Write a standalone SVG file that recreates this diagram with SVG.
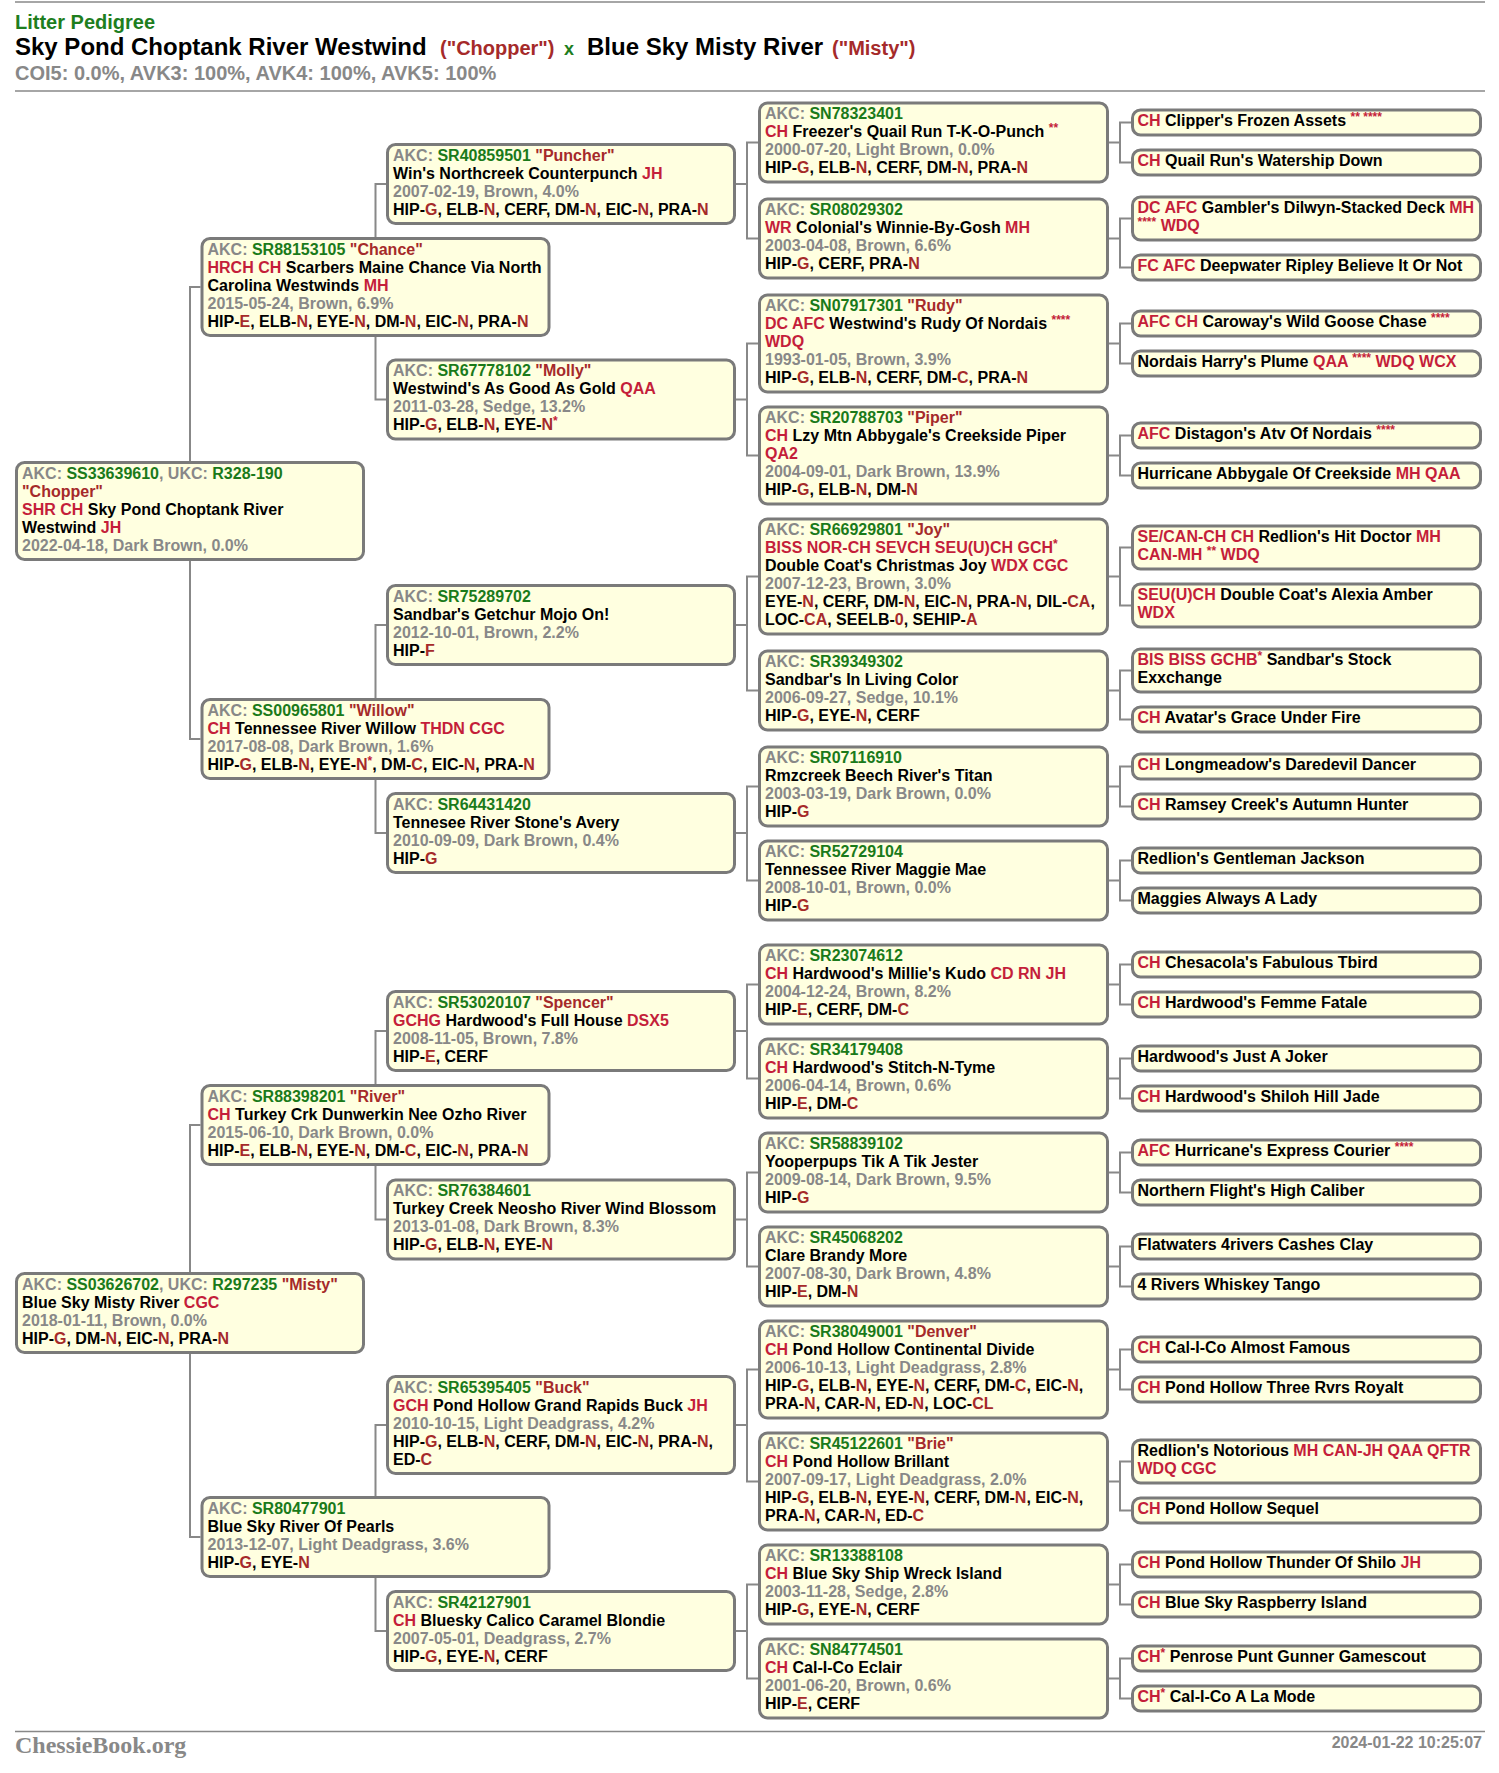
<svg xmlns="http://www.w3.org/2000/svg" width="1499" height="1773" viewBox="0 0 1499 1773">
<style>
text{font-family:"Liberation Sans",Arial,Helvetica,sans-serif;font-weight:bold;font-size:16px;fill:#000}
.box{fill:#ffffe0;stroke:#7a7a7a;stroke-width:3}
.g{fill:#888}
.r{fill:#1a7a1a}
.c{fill:#a52a2a}
.t{fill:#c41e3a}
.h{fill:#a52a2a}
.s{fill:#c41e3a;font-size:12px}
.rule{stroke:#888;stroke-width:1.5}
#connectors path{fill:none;stroke:#888;stroke-width:2}
</style>
<rect width="1499" height="1773" fill="#fff"/>
<g id="header">
<line class="rule" x1="15" y1="2" x2="1485" y2="2"/>
<text x="15" y="29" style="font-size:20px;fill:#1e7e1e">Litter Pedigree</text>
<text x="15" y="55" style="font-size:24px">Sky Pond Choptank River Westwind</text>
<text x="440" y="55" style="font-size:20px;fill:#a52a2a">("Chopper")</text>
<text x="564" y="55" style="font-size:18px;fill:#1e7e1e">x</text>
<text x="587" y="55" style="font-size:24px">Blue Sky Misty River</text>
<text x="832" y="55" style="font-size:20px;fill:#a52a2a">("Misty")</text>
<text x="15" y="80" style="font-size:20px;fill:#888">COI5: 0.0%, AVK3: 100%, AVK4: 100%, AVK5: 100%</text>
<line class="rule" x1="15" y1="91" x2="1485" y2="91"/>
</g>
<g id="connectors">
<path d="M190,461V287H200.5M190,561V739H200.5M190,1272V1125H200.5M190,1354V1537H200.5"/>
<path d="M375.5,237V184H386M375.5,337V399.5H386M375.5,698V625H386M375.5,780V833H386M375.5,1084V1031H386M375.5,1166V1219.5H386M375.5,1496V1425H386M375.5,1578V1631H386"/>
<path d="M736,184H747M758,142.5H747V238.5H758M736,399.5H747M758,343.5H747V455.5H758M736,625H747M758,576.5H747V690.5H758M736,833H747M758,786.5H747V880.5H758M736,1031H747M758,984.5H747V1078.5H758M736,1219.5H747M758,1172.5H747V1266.5H758M736,1425H747M758,1369.5H747V1481.5H758M736,1631H747M758,1584.5H747V1678.5H758"/>
<path d="M1109,142.5H1120M1131,122.5H1120V162.5H1131M1109,238.5H1120M1131,218.5H1120V267.5H1131M1109,343.5H1120M1131,323.5H1120V363.5H1131M1109,455.5H1120M1131,435.5H1120V475.5H1131M1109,576.5H1120M1131,547.5H1120V605.5H1131M1109,690.5H1120M1131,670.5H1120V719.5H1131M1109,786.5H1120M1131,766.5H1120V806.5H1131M1109,880.5H1120M1131,860.5H1120V900.5H1131M1109,984.5H1120M1131,964.5H1120V1004.5H1131M1109,1078.5H1120M1131,1058.5H1120V1098.5H1131M1109,1172.5H1120M1131,1152.5H1120V1192.5H1131M1109,1266.5H1120M1131,1246.5H1120V1286.5H1131M1109,1369.5H1120M1131,1349.5H1120V1389.5H1131M1109,1481.5H1120M1131,1461.5H1120V1510.5H1131M1109,1584.5H1120M1131,1564.5H1120V1604.5H1131M1109,1678.5H1120M1131,1658.5H1120V1698.5H1131"/>
</g>
<g id="chopper"><rect class="box" x="16.5" y="462.5" width="347" height="97" rx="8"/>
<text x="22" y="478.5"><tspan class="g">AKC: </tspan><tspan class="r">SS33639610</tspan><tspan class="g">, UKC: </tspan><tspan class="r">R328-190</tspan></text>
<text x="22" y="496.5" class="c">"Chopper"</text>
<text x="22" y="514.5"><tspan class="t">SHR CH</tspan> Sky Pond Choptank River</text>
<text x="22" y="532.5">Westwind <tspan class="t">JH</tspan></text>
<text x="22" y="550.5" class="g">2022-04-18, Dark Brown, 0.0%</text></g>
<g id="misty"><rect class="box" x="16.5" y="1273.5" width="347" height="79" rx="8"/>
<text x="22" y="1289.5"><tspan class="g">AKC: </tspan><tspan class="r">SS03626702</tspan><tspan class="g">, UKC: </tspan><tspan class="r">R297235</tspan><tspan class="c"> "Misty"</tspan></text>
<text x="22" y="1307.5">Blue Sky Misty River <tspan class="t">CGC</tspan></text>
<text x="22" y="1325.5" class="g">2018-01-11, Brown, 0.0%</text>
<text x="22" y="1343.5">HIP-<tspan class="h">G</tspan>, DM-<tspan class="h">N</tspan>, EIC-<tspan class="h">N</tspan>, PRA-<tspan class="h">N</tspan></text></g>
<g id="chance"><rect class="box" x="202" y="238.5" width="347" height="97" rx="8"/>
<text x="207.5" y="254.5"><tspan class="g">AKC: </tspan><tspan class="r">SR88153105</tspan><tspan class="c"> "Chance"</tspan></text>
<text x="207.5" y="272.5"><tspan class="t">HRCH CH</tspan> Scarbers Maine Chance Via North</text>
<text x="207.5" y="290.5">Carolina Westwinds <tspan class="t">MH</tspan></text>
<text x="207.5" y="308.5" class="g">2015-05-24, Brown, 6.9%</text>
<text x="207.5" y="326.5">HIP-<tspan class="h">E</tspan>, ELB-<tspan class="h">N</tspan>, EYE-<tspan class="h">N</tspan>, DM-<tspan class="h">N</tspan>, EIC-<tspan class="h">N</tspan>, PRA-<tspan class="h">N</tspan></text></g>
<g id="willow"><rect class="box" x="202" y="699.5" width="347" height="79" rx="8"/>
<text x="207.5" y="715.5"><tspan class="g">AKC: </tspan><tspan class="r">SS00965801</tspan><tspan class="c"> "Willow"</tspan></text>
<text x="207.5" y="733.5"><tspan class="t">CH</tspan> Tennessee River Willow <tspan class="t">THDN CGC</tspan></text>
<text x="207.5" y="751.5" class="g">2017-08-08, Dark Brown, 1.6%</text>
<text x="207.5" y="769.5">HIP-<tspan class="h">G</tspan>, ELB-<tspan class="h">N</tspan>, EYE-<tspan class="h">N</tspan><tspan class="s" dy="-5">*</tspan><tspan dy="5">, DM-</tspan><tspan class="h">C</tspan>, EIC-<tspan class="h">N</tspan>, PRA-<tspan class="h">N</tspan></text></g>
<g id="river"><rect class="box" x="202" y="1085.5" width="347" height="79" rx="8"/>
<text x="207.5" y="1101.5"><tspan class="g">AKC: </tspan><tspan class="r">SR88398201</tspan><tspan class="c"> "River"</tspan></text>
<text x="207.5" y="1119.5"><tspan class="t">CH</tspan> Turkey Crk Dunwerkin Nee Ozho River</text>
<text x="207.5" y="1137.5" class="g">2015-06-10, Dark Brown, 0.0%</text>
<text x="207.5" y="1155.5">HIP-<tspan class="h">E</tspan>, ELB-<tspan class="h">N</tspan>, EYE-<tspan class="h">N</tspan>, DM-<tspan class="h">C</tspan>, EIC-<tspan class="h">N</tspan>, PRA-<tspan class="h">N</tspan></text></g>
<g id="pearls"><rect class="box" x="202" y="1497.5" width="347" height="79" rx="8"/>
<text x="207.5" y="1513.5"><tspan class="g">AKC: </tspan><tspan class="r">SR80477901</tspan></text>
<text x="207.5" y="1531.5">Blue Sky River Of Pearls</text>
<text x="207.5" y="1549.5" class="g">2013-12-07, Light Deadgrass, 3.6%</text>
<text x="207.5" y="1567.5">HIP-<tspan class="h">G</tspan>, EYE-<tspan class="h">N</tspan></text></g>
<g id="puncher"><rect class="box" x="387.5" y="144.5" width="347" height="79" rx="8"/>
<text x="393" y="160.5"><tspan class="g">AKC: </tspan><tspan class="r">SR40859501</tspan><tspan class="c"> "Puncher"</tspan></text>
<text x="393" y="178.5">Win's Northcreek Counterpunch <tspan class="t">JH</tspan></text>
<text x="393" y="196.5" class="g">2007-02-19, Brown, 4.0%</text>
<text x="393" y="214.5">HIP-<tspan class="h">G</tspan>, ELB-<tspan class="h">N</tspan>, CERF, DM-<tspan class="h">N</tspan>, EIC-<tspan class="h">N</tspan>, PRA-<tspan class="h">N</tspan></text></g>
<g id="molly"><rect class="box" x="387.5" y="360" width="347" height="79" rx="8"/>
<text x="393" y="376"><tspan class="g">AKC: </tspan><tspan class="r">SR67778102</tspan><tspan class="c"> "Molly"</tspan></text>
<text x="393" y="394">Westwind's As Good As Gold <tspan class="t">QAA</tspan></text>
<text x="393" y="412" class="g">2011-03-28, Sedge, 13.2%</text>
<text x="393" y="430">HIP-<tspan class="h">G</tspan>, ELB-<tspan class="h">N</tspan>, EYE-<tspan class="h">N</tspan><tspan class="s" dy="-5">*</tspan></text></g>
<g id="mojo"><rect class="box" x="387.5" y="585.5" width="347" height="79" rx="8"/>
<text x="393" y="601.5"><tspan class="g">AKC: </tspan><tspan class="r">SR75289702</tspan></text>
<text x="393" y="619.5">Sandbar's Getchur Mojo On!</text>
<text x="393" y="637.5" class="g">2012-10-01, Brown, 2.2%</text>
<text x="393" y="655.5">HIP-<tspan class="h">F</tspan></text></g>
<g id="avery"><rect class="box" x="387.5" y="793.5" width="347" height="79" rx="8"/>
<text x="393" y="809.5"><tspan class="g">AKC: </tspan><tspan class="r">SR64431420</tspan></text>
<text x="393" y="827.5">Tennesee River Stone's Avery</text>
<text x="393" y="845.5" class="g">2010-09-09, Dark Brown, 0.4%</text>
<text x="393" y="863.5">HIP-<tspan class="h">G</tspan></text></g>
<g id="spencer"><rect class="box" x="387.5" y="991.5" width="347" height="79" rx="8"/>
<text x="393" y="1007.5"><tspan class="g">AKC: </tspan><tspan class="r">SR53020107</tspan><tspan class="c"> "Spencer"</tspan></text>
<text x="393" y="1025.5"><tspan class="t">GCHG</tspan> Hardwood's Full House <tspan class="t">DSX5</tspan></text>
<text x="393" y="1043.5" class="g">2008-11-05, Brown, 7.8%</text>
<text x="393" y="1061.5">HIP-<tspan class="h">E</tspan>, CERF</text></g>
<g id="neosho"><rect class="box" x="387.5" y="1180" width="347" height="79" rx="8"/>
<text x="393" y="1196"><tspan class="g">AKC: </tspan><tspan class="r">SR76384601</tspan></text>
<text x="393" y="1214">Turkey Creek Neosho River Wind Blossom</text>
<text x="393" y="1232" class="g">2013-01-08, Dark Brown, 8.3%</text>
<text x="393" y="1250">HIP-<tspan class="h">G</tspan>, ELB-<tspan class="h">N</tspan>, EYE-<tspan class="h">N</tspan></text></g>
<g id="buck"><rect class="box" x="387.5" y="1376.5" width="347" height="97" rx="8"/>
<text x="393" y="1392.5"><tspan class="g">AKC: </tspan><tspan class="r">SR65395405</tspan><tspan class="c"> "Buck"</tspan></text>
<text x="393" y="1410.5"><tspan class="t">GCH</tspan> Pond Hollow Grand Rapids Buck <tspan class="t">JH</tspan></text>
<text x="393" y="1428.5" class="g">2010-10-15, Light Deadgrass, 4.2%</text>
<text x="393" y="1446.5">HIP-<tspan class="h">G</tspan>, ELB-<tspan class="h">N</tspan>, CERF, DM-<tspan class="h">N</tspan>, EIC-<tspan class="h">N</tspan>, PRA-<tspan class="h">N</tspan>,</text>
<text x="393" y="1464.5">ED-<tspan class="h">C</tspan></text></g>
<g id="blondie"><rect class="box" x="387.5" y="1591.5" width="347" height="79" rx="8"/>
<text x="393" y="1607.5"><tspan class="g">AKC: </tspan><tspan class="r">SR42127901</tspan></text>
<text x="393" y="1625.5"><tspan class="t">CH</tspan> Bluesky Calico Caramel Blondie</text>
<text x="393" y="1643.5" class="g">2007-05-01, Deadgrass, 2.7%</text>
<text x="393" y="1661.5">HIP-<tspan class="h">G</tspan>, EYE-<tspan class="h">N</tspan>, CERF</text></g>
<g id="freezer"><rect class="box" x="759.5" y="103" width="348" height="79" rx="8"/>
<text x="765" y="119"><tspan class="g">AKC: </tspan><tspan class="r">SN78323401</tspan></text>
<text x="765" y="137"><tspan class="t">CH</tspan> Freezer's Quail Run T-K-O-Punch <tspan class="s" dy="-5">**</tspan></text>
<text x="765" y="155" class="g">2000-07-20, Light Brown, 0.0%</text>
<text x="765" y="173">HIP-<tspan class="h">G</tspan>, ELB-<tspan class="h">N</tspan>, CERF, DM-<tspan class="h">N</tspan>, PRA-<tspan class="h">N</tspan></text></g>
<g id="colonial"><rect class="box" x="759.5" y="199" width="348" height="79" rx="8"/>
<text x="765" y="215"><tspan class="g">AKC: </tspan><tspan class="r">SR08029302</tspan></text>
<text x="765" y="233"><tspan class="t">WR</tspan> Colonial's Winnie-By-Gosh <tspan class="t">MH</tspan></text>
<text x="765" y="251" class="g">2003-04-08, Brown, 6.6%</text>
<text x="765" y="269">HIP-<tspan class="h">G</tspan>, CERF, PRA-<tspan class="h">N</tspan></text></g>
<g id="rudy"><rect class="box" x="759.5" y="295" width="348" height="97" rx="8"/>
<text x="765" y="311"><tspan class="g">AKC: </tspan><tspan class="r">SN07917301</tspan><tspan class="c"> "Rudy"</tspan></text>
<text x="765" y="329"><tspan class="t">DC AFC</tspan> Westwind's Rudy Of Nordais <tspan class="s" dy="-5">****</tspan></text>
<text x="765" y="347" class="t">WDQ</text>
<text x="765" y="365" class="g">1993-01-05, Brown, 3.9%</text>
<text x="765" y="383">HIP-<tspan class="h">G</tspan>, ELB-<tspan class="h">N</tspan>, CERF, DM-<tspan class="h">C</tspan>, PRA-<tspan class="h">N</tspan></text></g>
<g id="piper"><rect class="box" x="759.5" y="407" width="348" height="97" rx="8"/>
<text x="765" y="423"><tspan class="g">AKC: </tspan><tspan class="r">SR20788703</tspan><tspan class="c"> "Piper"</tspan></text>
<text x="765" y="441"><tspan class="t">CH</tspan> Lzy Mtn Abbygale's Creekside Piper</text>
<text x="765" y="459" class="t">QA2</text>
<text x="765" y="477" class="g">2004-09-01, Dark Brown, 13.9%</text>
<text x="765" y="495">HIP-<tspan class="h">G</tspan>, ELB-<tspan class="h">N</tspan>, DM-<tspan class="h">N</tspan></text></g>
<g id="joy"><rect class="box" x="759.5" y="519" width="348" height="115" rx="8"/>
<text x="765" y="535"><tspan class="g">AKC: </tspan><tspan class="r">SR66929801</tspan><tspan class="c"> "Joy"</tspan></text>
<text x="765" y="553"><tspan class="t">BISS NOR-CH SEVCH SEU(U)CH GCH</tspan><tspan class="s" dy="-5">*</tspan></text>
<text x="765" y="571">Double Coat's Christmas Joy <tspan class="t">WDX CGC</tspan></text>
<text x="765" y="589" class="g">2007-12-23, Brown, 3.0%</text>
<text x="765" y="607">EYE-<tspan class="h">N</tspan>, CERF, DM-<tspan class="h">N</tspan>, EIC-<tspan class="h">N</tspan>, PRA-<tspan class="h">N</tspan>, DIL-<tspan class="h">CA</tspan>,</text>
<text x="765" y="625">LOC-<tspan class="h">CA</tspan>, SEELB-<tspan class="h">0</tspan>, SEHIP-<tspan class="h">A</tspan></text></g>
<g id="livingcolor"><rect class="box" x="759.5" y="651" width="348" height="79" rx="8"/>
<text x="765" y="667"><tspan class="g">AKC: </tspan><tspan class="r">SR39349302</tspan></text>
<text x="765" y="685">Sandbar's In Living Color</text>
<text x="765" y="703" class="g">2006-09-27, Sedge, 10.1%</text>
<text x="765" y="721">HIP-<tspan class="h">G</tspan>, EYE-<tspan class="h">N</tspan>, CERF</text></g>
<g id="titan"><rect class="box" x="759.5" y="747" width="348" height="79" rx="8"/>
<text x="765" y="763"><tspan class="g">AKC: </tspan><tspan class="r">SR07116910</tspan></text>
<text x="765" y="781">Rmzcreek Beech River's Titan</text>
<text x="765" y="799" class="g">2003-03-19, Dark Brown, 0.0%</text>
<text x="765" y="817">HIP-<tspan class="h">G</tspan></text></g>
<g id="maggiemae"><rect class="box" x="759.5" y="841" width="348" height="79" rx="8"/>
<text x="765" y="857"><tspan class="g">AKC: </tspan><tspan class="r">SR52729104</tspan></text>
<text x="765" y="875">Tennessee River Maggie Mae</text>
<text x="765" y="893" class="g">2008-10-01, Brown, 0.0%</text>
<text x="765" y="911">HIP-<tspan class="h">G</tspan></text></g>
<g id="kudo"><rect class="box" x="759.5" y="945" width="348" height="79" rx="8"/>
<text x="765" y="961"><tspan class="g">AKC: </tspan><tspan class="r">SR23074612</tspan></text>
<text x="765" y="979"><tspan class="t">CH</tspan> Hardwood's Millie's Kudo <tspan class="t">CD RN JH</tspan></text>
<text x="765" y="997" class="g">2004-12-24, Brown, 8.2%</text>
<text x="765" y="1015">HIP-<tspan class="h">E</tspan>, CERF, DM-<tspan class="h">C</tspan></text></g>
<g id="stitch"><rect class="box" x="759.5" y="1039" width="348" height="79" rx="8"/>
<text x="765" y="1055"><tspan class="g">AKC: </tspan><tspan class="r">SR34179408</tspan></text>
<text x="765" y="1073"><tspan class="t">CH</tspan> Hardwood's Stitch-N-Tyme</text>
<text x="765" y="1091" class="g">2006-04-14, Brown, 0.6%</text>
<text x="765" y="1109">HIP-<tspan class="h">E</tspan>, DM-<tspan class="h">C</tspan></text></g>
<g id="jester"><rect class="box" x="759.5" y="1133" width="348" height="79" rx="8"/>
<text x="765" y="1149"><tspan class="g">AKC: </tspan><tspan class="r">SR58839102</tspan></text>
<text x="765" y="1167">Yooperpups Tik A Tik Jester</text>
<text x="765" y="1185" class="g">2009-08-14, Dark Brown, 9.5%</text>
<text x="765" y="1203">HIP-<tspan class="h">G</tspan></text></g>
<g id="clare"><rect class="box" x="759.5" y="1227" width="348" height="79" rx="8"/>
<text x="765" y="1243"><tspan class="g">AKC: </tspan><tspan class="r">SR45068202</tspan></text>
<text x="765" y="1261">Clare Brandy More</text>
<text x="765" y="1279" class="g">2007-08-30, Dark Brown, 4.8%</text>
<text x="765" y="1297">HIP-<tspan class="h">E</tspan>, DM-<tspan class="h">N</tspan></text></g>
<g id="denver"><rect class="box" x="759.5" y="1321" width="348" height="97" rx="8"/>
<text x="765" y="1337"><tspan class="g">AKC: </tspan><tspan class="r">SR38049001</tspan><tspan class="c"> "Denver"</tspan></text>
<text x="765" y="1355"><tspan class="t">CH</tspan> Pond Hollow Continental Divide</text>
<text x="765" y="1373" class="g">2006-10-13, Light Deadgrass, 2.8%</text>
<text x="765" y="1391">HIP-<tspan class="h">G</tspan>, ELB-<tspan class="h">N</tspan>, EYE-<tspan class="h">N</tspan>, CERF, DM-<tspan class="h">C</tspan>, EIC-<tspan class="h">N</tspan>,</text>
<text x="765" y="1409">PRA-<tspan class="h">N</tspan>, CAR-<tspan class="h">N</tspan>, ED-<tspan class="h">N</tspan>, LOC-<tspan class="h">CL</tspan></text></g>
<g id="brie"><rect class="box" x="759.5" y="1433" width="348" height="97" rx="8"/>
<text x="765" y="1449"><tspan class="g">AKC: </tspan><tspan class="r">SR45122601</tspan><tspan class="c"> "Brie"</tspan></text>
<text x="765" y="1467"><tspan class="t">CH</tspan> Pond Hollow Brillant</text>
<text x="765" y="1485" class="g">2007-09-17, Light Deadgrass, 2.0%</text>
<text x="765" y="1503">HIP-<tspan class="h">G</tspan>, ELB-<tspan class="h">N</tspan>, EYE-<tspan class="h">N</tspan>, CERF, DM-<tspan class="h">N</tspan>, EIC-<tspan class="h">N</tspan>,</text>
<text x="765" y="1521">PRA-<tspan class="h">N</tspan>, CAR-<tspan class="h">N</tspan>, ED-<tspan class="h">C</tspan></text></g>
<g id="shipwreck"><rect class="box" x="759.5" y="1545" width="348" height="79" rx="8"/>
<text x="765" y="1561"><tspan class="g">AKC: </tspan><tspan class="r">SR13388108</tspan></text>
<text x="765" y="1579"><tspan class="t">CH</tspan> Blue Sky Ship Wreck Island</text>
<text x="765" y="1597" class="g">2003-11-28, Sedge, 2.8%</text>
<text x="765" y="1615">HIP-<tspan class="h">G</tspan>, EYE-<tspan class="h">N</tspan>, CERF</text></g>
<g id="eclair"><rect class="box" x="759.5" y="1639" width="348" height="79" rx="8"/>
<text x="765" y="1655"><tspan class="g">AKC: </tspan><tspan class="r">SN84774501</tspan></text>
<text x="765" y="1673"><tspan class="t">CH</tspan> Cal-I-Co Eclair</text>
<text x="765" y="1691" class="g">2001-06-20, Brown, 0.6%</text>
<text x="765" y="1709">HIP-<tspan class="h">E</tspan>, CERF</text></g>
<g id="g4-01"><rect class="box" x="1132.5" y="110" width="348" height="25" rx="8"/><text x="1137.5" y="126"><tspan class="t">CH</tspan> Clipper's Frozen Assets <tspan class="s" dy="-5">** ****</tspan></text></g>
<g id="g4-02"><rect class="box" x="1132.5" y="150" width="348" height="25" rx="8"/><text x="1137.5" y="166"><tspan class="t">CH</tspan> Quail Run's Watership Down</text></g>
<g id="g4-03"><rect class="box" x="1132.5" y="197" width="348" height="43" rx="8"/><text x="1137.5" y="213"><tspan class="t">DC AFC</tspan> Gambler's Dilwyn-Stacked Deck <tspan class="t">MH</tspan></text><text x="1137.5" y="231"><tspan class="s" dy="-5">****</tspan><tspan class="t" dy="5"> WDQ</tspan></text></g>
<g id="g4-04"><rect class="box" x="1132.5" y="255" width="348" height="25" rx="8"/><text x="1137.5" y="271"><tspan class="t">FC AFC</tspan> Deepwater Ripley Believe It Or Not</text></g>
<g id="g4-05"><rect class="box" x="1132.5" y="311" width="348" height="25" rx="8"/><text x="1137.5" y="327"><tspan class="t">AFC CH</tspan> Caroway's Wild Goose Chase <tspan class="s" dy="-5">****</tspan></text></g>
<g id="g4-06"><rect class="box" x="1132.5" y="351" width="348" height="25" rx="8"/><text x="1137.5" y="367">Nordais Harry's Plume <tspan class="t">QAA</tspan> <tspan class="s" dy="-5">****</tspan><tspan class="t" dy="5"> WDQ WCX</tspan></text></g>
<g id="g4-07"><rect class="box" x="1132.5" y="423" width="348" height="25" rx="8"/><text x="1137.5" y="439"><tspan class="t">AFC</tspan> Distagon's Atv Of Nordais <tspan class="s" dy="-5">****</tspan></text></g>
<g id="g4-08"><rect class="box" x="1132.5" y="463" width="348" height="25" rx="8"/><text x="1137.5" y="479">Hurricane Abbygale Of Creekside <tspan class="t">MH QAA</tspan></text></g>
<g id="g4-09"><rect class="box" x="1132.5" y="526" width="348" height="43" rx="8"/><text x="1137.5" y="542"><tspan class="t">SE/CAN-CH CH</tspan> Redlion's Hit Doctor <tspan class="t">MH</tspan></text><text x="1137.5" y="560"><tspan class="t">CAN-MH </tspan><tspan class="s" dy="-5">**</tspan><tspan class="t" dy="5"> WDQ</tspan></text></g>
<g id="g4-10"><rect class="box" x="1132.5" y="584" width="348" height="43" rx="8"/><text x="1137.5" y="600"><tspan class="t">SEU(U)CH</tspan> Double Coat's Alexia Amber</text><text x="1137.5" y="618" class="t">WDX</text></g>
<g id="g4-11"><rect class="box" x="1132.5" y="649" width="348" height="43" rx="8"/><text x="1137.5" y="665"><tspan class="t">BIS BISS GCHB</tspan><tspan class="s" dy="-5">*</tspan><tspan dy="5"> Sandbar's Stock</tspan></text><text x="1137.5" y="683">Exxchange</text></g>
<g id="g4-12"><rect class="box" x="1132.5" y="707" width="348" height="25" rx="8"/><text x="1137.5" y="723"><tspan class="t">CH</tspan> Avatar's Grace Under Fire</text></g>
<g id="g4-13"><rect class="box" x="1132.5" y="754" width="348" height="25" rx="8"/><text x="1137.5" y="770"><tspan class="t">CH</tspan> Longmeadow's Daredevil Dancer</text></g>
<g id="g4-14"><rect class="box" x="1132.5" y="794" width="348" height="25" rx="8"/><text x="1137.5" y="810"><tspan class="t">CH</tspan> Ramsey Creek's Autumn Hunter</text></g>
<g id="g4-15"><rect class="box" x="1132.5" y="848" width="348" height="25" rx="8"/><text x="1137.5" y="864">Redlion's Gentleman Jackson</text></g>
<g id="g4-16"><rect class="box" x="1132.5" y="888" width="348" height="25" rx="8"/><text x="1137.5" y="904">Maggies Always A Lady</text></g>
<g id="g4-17"><rect class="box" x="1132.5" y="952" width="348" height="25" rx="8"/><text x="1137.5" y="968"><tspan class="t">CH</tspan> Chesacola's Fabulous Tbird</text></g>
<g id="g4-18"><rect class="box" x="1132.5" y="992" width="348" height="25" rx="8"/><text x="1137.5" y="1008"><tspan class="t">CH</tspan> Hardwood's Femme Fatale</text></g>
<g id="g4-19"><rect class="box" x="1132.5" y="1046" width="348" height="25" rx="8"/><text x="1137.5" y="1062">Hardwood's Just A Joker</text></g>
<g id="g4-20"><rect class="box" x="1132.5" y="1086" width="348" height="25" rx="8"/><text x="1137.5" y="1102"><tspan class="t">CH</tspan> Hardwood's Shiloh Hill Jade</text></g>
<g id="g4-21"><rect class="box" x="1132.5" y="1140" width="348" height="25" rx="8"/><text x="1137.5" y="1156"><tspan class="t">AFC</tspan> Hurricane's Express Courier <tspan class="s" dy="-5">****</tspan></text></g>
<g id="g4-22"><rect class="box" x="1132.5" y="1180" width="348" height="25" rx="8"/><text x="1137.5" y="1196">Northern Flight's High Caliber</text></g>
<g id="g4-23"><rect class="box" x="1132.5" y="1234" width="348" height="25" rx="8"/><text x="1137.5" y="1250">Flatwaters 4rivers Cashes Clay</text></g>
<g id="g4-24"><rect class="box" x="1132.5" y="1274" width="348" height="25" rx="8"/><text x="1137.5" y="1290">4 Rivers Whiskey Tango</text></g>
<g id="g4-25"><rect class="box" x="1132.5" y="1337" width="348" height="25" rx="8"/><text x="1137.5" y="1353"><tspan class="t">CH</tspan> Cal-I-Co Almost Famous</text></g>
<g id="g4-26"><rect class="box" x="1132.5" y="1377" width="348" height="25" rx="8"/><text x="1137.5" y="1393"><tspan class="t">CH</tspan> Pond Hollow Three Rvrs Royalt</text></g>
<g id="g4-27"><rect class="box" x="1132.5" y="1440" width="348" height="43" rx="8"/><text x="1137.5" y="1456">Redlion's Notorious <tspan class="t">MH CAN-JH QAA QFTR</tspan></text><text x="1137.5" y="1474" class="t">WDQ CGC</text></g>
<g id="g4-28"><rect class="box" x="1132.5" y="1498" width="348" height="25" rx="8"/><text x="1137.5" y="1514"><tspan class="t">CH</tspan> Pond Hollow Sequel</text></g>
<g id="g4-29"><rect class="box" x="1132.5" y="1552" width="348" height="25" rx="8"/><text x="1137.5" y="1568"><tspan class="t">CH</tspan> Pond Hollow Thunder Of Shilo <tspan class="t">JH</tspan></text></g>
<g id="g4-30"><rect class="box" x="1132.5" y="1592" width="348" height="25" rx="8"/><text x="1137.5" y="1608"><tspan class="t">CH</tspan> Blue Sky Raspberry Island</text></g>
<g id="g4-31"><rect class="box" x="1132.5" y="1646" width="348" height="25" rx="8"/><text x="1137.5" y="1662"><tspan class="t">CH</tspan><tspan class="s" dy="-5">*</tspan><tspan dy="5"> Penrose Punt Gunner Gamescout</tspan></text></g>
<g id="g4-32"><rect class="box" x="1132.5" y="1686" width="348" height="25" rx="8"/><text x="1137.5" y="1702"><tspan class="t">CH</tspan><tspan class="s" dy="-5">*</tspan><tspan dy="5"> Cal-I-Co A La Mode</tspan></text></g>
<g id="footer">
<line class="rule" x1="15" y1="1731.5" x2="1485" y2="1731.5"/>
<text x="15" y="1753" style="font-family:'Liberation Serif','Times New Roman',serif;font-size:24px;fill:#888">ChessieBook.org</text>
<text x="1482" y="1748" text-anchor="end" class="g">2024-01-22 10:25:07</text>
</g>
</svg>
